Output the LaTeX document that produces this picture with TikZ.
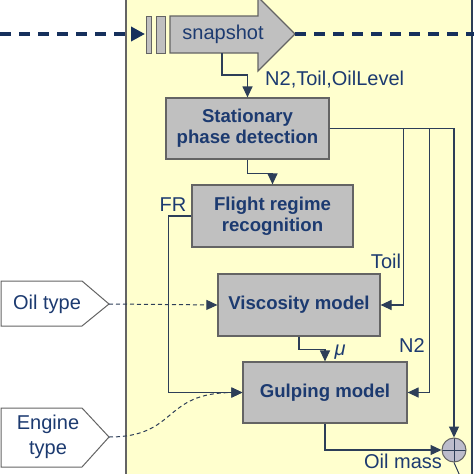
\documentclass[tikz,border=0pt]{standalone}
\usepackage{fontspec}
\setmainfont{Liberation Sans}
\usepackage{tikz}
\usetikzlibrary{arrows.meta, calc}
\definecolor{navy}{RGB}{28,58,112}
\definecolor{wire}{RGB}{45,62,88}
\definecolor{busblue}{RGB}{22,48,92}
\definecolor{boxgrey}{RGB}{192,192,192}
\definecolor{boxline}{RGB}{100,100,100}
\definecolor{sumgrey}{RGB}{188,188,204}
\definecolor{panel}{RGB}{255,255,206}
\tikzset{
  block/.style={
    rectangle, draw=boxline, line width=1.2pt, fill=boxgrey, align=center,
    text=navy, font=\fontsize{18.6}{21}\selectfont\bfseries, inner sep=0pt
  },
  lbl/.style={text=navy, font=\fontsize{20}{25}\selectfont, inner sep=0pt, align=center},
  tagbox/.style={draw=boxline, line width=1pt, fill=white},
  flow/.style={draw=wire, line width=1.2pt, -{Triangle[length=11pt,width=10pt]}},
  param/.style={draw=wire, line width=1pt, dash pattern=on 4pt off 3pt,
    -{Triangle[length=11pt,width=10pt]}},
  bus/.style={draw=busblue, line width=3.5pt, dash pattern=on 11pt off 8pt},
  sumnode/.style={
    circle, draw=boxline, line width=1pt, fill=sumgrey, minimum size=24pt, inner sep=0pt,
    path picture={
      \draw[wire, line width=1pt] (path picture bounding box.north) -- (path picture bounding box.south);
      \draw[wire, line width=1pt] (path picture bounding box.west) -- (path picture bounding box.east);
    }
  },
}
\begin{document}
\begin{tikzpicture}[x=1pt, y=-1pt]
  \useasboundingbox (0,0) rectangle (474,474);
  \fill[panel] (126,-5) rectangle (472,480);
  \draw[boxline, line width=1.3pt] (126,-5) -- (126,480);
  \draw[wire, line width=2pt] (472,-5) -- (472,480);

  % snapshot input
  \draw[boxline, fill=boxgrey, line width=1.2pt]
    (170,16) -- (258,16) -- (258,-3) -- (295,34) -- (258,71) -- (258,53) -- (170,53) -- cycle;
  \draw[boxline, fill=boxgrey, line width=1pt] (146,16) rectangle (151,53);
  \draw[boxline, fill=boxgrey, line width=1pt] (156,16) rectangle (165,53);
  \node[lbl] (snap) at (223,34) {snapshot};
  \coordinate (snapin) at (145,34);
  \coordinate (snaptip) at (295,34);
  \coordinate (snapout) at (222,53);
  \coordinate (busin) at (0,34);
  \coordinate (busout) at (476,34);
  \draw[bus, -{Triangle[length=14pt,width=14pt]}] (busin) -- (snapin);
  \draw[bus] (snaptip) -- (busout);

  \node[block, minimum width=163pt, minimum height=61pt] (SPD) at (247.5,128.5) {Stationary\\phase detection};
  \node[block, minimum width=161pt, minimum height=62pt] (FRR) at (272.5,216) {Flight regime\\recognition};
  \node[block, minimum width=162pt, minimum height=62pt] (visc) at (299,305) {Viscosity model};
  \node[block, minimum width=164pt, minimum height=61pt] (gulp) at (325,392.5) {Gulping model};
  \node[sumnode] (sum) at (454,450) {};
  \coordinate (mass) at (460,476);

  % external parameters
  \draw[tagbox] (1,281) -- (82,281) -- (109,304) -- (82,326) -- (1,326) -- cycle;
  \node[lbl] (oil) at (47,304) {Oil type};
  \coordinate (oiltip) at (109,304);
  \draw[tagbox] (1,408) -- (82,408) -- (109,437) -- (82,467) -- (1,467) -- cycle;
  \node[lbl] (engine) at (48,437) {Engine\\type};
  \coordinate (enginetip) at (109,437);

  \draw[flow] (snapout) -- ++(0,22) -| (SPD.north);
  \draw[flow] (SPD.south) -- ++(0,14) -| (FRR.north);
  \draw[flow] (FRR.west) -- ++(-23,0) |- (gulp.west);
  \draw[flow] (SPD.east) -- ++(74,0) |- (visc.east);
  \draw[flow] (SPD.east) -- ++(100,0) |- (gulp.east);
  \draw[flow] (SPD.east) -| (sum.north);
  \draw[flow] (visc.south) -- ++(0,13) -| (gulp.north);
  \draw[flow] (gulp.south) |- (sum.west);
  \draw[wire, line width=1pt] (sum.south) -- (mass);
  \draw[param] (oiltip) -- (visc.west);
  \draw[param] (enginetip) .. controls (178,437) and (162,393) .. (gulp.west);

  \node[lbl, anchor=west] (inputs) at (265,80) {N2,Toil,OilLevel};
  \node[lbl] (fr) at (173,205) {FR};
  \node[lbl] (toil) at (386,261) {Toil};
  \node[lbl] (n2) at (412,346) {N2};
  \node[lbl] (mu) at (340,352) {\itshape μ};
  \node[lbl] (oilmass) at (403,461) {Oil mass};
\end{tikzpicture}
\end{document}
